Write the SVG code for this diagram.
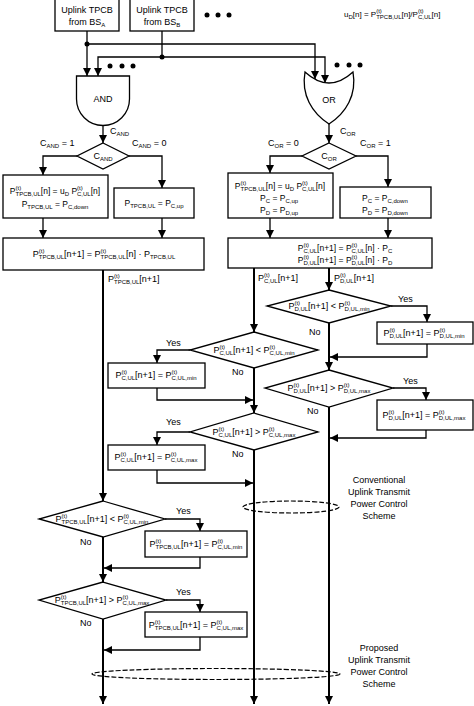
<svg xmlns="http://www.w3.org/2000/svg" width="474" height="706" viewBox="0 0 474 706">
<style>
.t{font-family:"Liberation Sans",Arial,sans-serif;font-size:9px;fill:#000}
.m{text-anchor:middle}
.s{font-size:6px}
.b{fill:#fff;stroke:#000;stroke-width:1.3}
.l{fill:none;stroke:#000;stroke-width:1.3}
.k{fill:none;stroke:#000;stroke-width:2}
.e{fill:none;stroke:#000;stroke-width:1.2;stroke-dasharray:5,2}
</style>
<defs>
<marker id="ah" markerUnits="userSpaceOnUse" markerWidth="8" markerHeight="8" refX="8" refY="4" orient="auto"><path d="M0,0 L8,4 L0,8 Z" fill="#000"/></marker>
</defs>

<g id="connectors">
<path class="l" d="M87,31 V76" marker-end="url(#ah)"/>
<path class="l" d="M162,31 V57"/>
<path class="l" d="M87,44 H315 V79" marker-end="url(#ah)"/>
<path class="l" d="M162,57 H98 V76" marker-end="url(#ah)"/>
<path class="l" d="M162,57 H325 V83" marker-end="url(#ah)"/>
<circle cx="87" cy="44" r="2.5"/>
<circle cx="162" cy="57" r="2.5"/>
<path class="l" d="M103,126 V143" marker-end="url(#ah)"/>
<path class="l" d="M77,156 H43 V175" marker-end="url(#ah)"/>
<path class="l" d="M129,156 H162 V188" marker-end="url(#ah)"/>
<path class="l" d="M43,218 V238" marker-end="url(#ah)"/>
<path class="l" d="M162,218 V238" marker-end="url(#ah)"/>
<path class="k" d="M103,270 V501" marker-end="url(#ah)"/>
<path class="l" d="M165,519 H200 V531" marker-end="url(#ah)"/>
<path class="l" d="M200,557 V568 H104" marker-end="url(#ah)"/>
<path class="k" d="M103,537 V582" marker-end="url(#ah)"/>
<path class="l" d="M166,600 H200 V612" marker-end="url(#ah)"/>
<path class="l" d="M200,637 V650 H104" marker-end="url(#ah)"/>
<path class="k" d="M103,619 V704" marker-end="url(#ah)"/>

<path class="l" d="M329,124 V143" marker-end="url(#ah)"/>
<path class="l" d="M302,156 H270 V173" marker-end="url(#ah)"/>
<path class="l" d="M356,156 H388 V187" marker-end="url(#ah)"/>
<path class="l" d="M270,218 V238" marker-end="url(#ah)"/>
<path class="l" d="M388,218 V238" marker-end="url(#ah)"/>

<path class="k" d="M254,268 V332" marker-end="url(#ah)"/>
<path class="l" d="M190,350 H157 V363" marker-end="url(#ah)"/>
<path class="l" d="M157,388 V400 H253" marker-end="url(#ah)"/>
<path class="k" d="M254,368 V413" marker-end="url(#ah)"/>
<path class="l" d="M190,432 H157 V445" marker-end="url(#ah)"/>
<path class="l" d="M157,470 V483 H253" marker-end="url(#ah)"/>
<path class="k" d="M254,450 V704" marker-end="url(#ah)"/>

<path class="k" d="M329,268 V290" marker-end="url(#ah)"/>
<path class="l" d="M391,306 H427 V322" marker-end="url(#ah)"/>
<path class="l" d="M427,344 V357 H330" marker-end="url(#ah)"/>
<path class="k" d="M329,323 V370" marker-end="url(#ah)"/>
<path class="l" d="M393,388 H426 V400" marker-end="url(#ah)"/>
<path class="l" d="M426,430 V438 H330" marker-end="url(#ah)"/>
<path class="k" d="M329,407 V704" marker-end="url(#ah)"/>
</g>

<g id="dots">
<circle cx="207" cy="15" r="2.5"/><circle cx="218" cy="15" r="2.5"/><circle cx="229" cy="15" r="2.5"/>
<circle cx="110" cy="66" r="2.5"/><circle cx="122" cy="66" r="2.5"/><circle cx="133" cy="66" r="2.5"/>
<circle cx="337" cy="65" r="2.5"/><circle cx="349" cy="65" r="2.5"/><circle cx="360" cy="65" r="2.5"/>
</g>

<g id="eq">
<text class="t" x="344" y="17" style="font-size:8px">u<tspan class="s" dy="2">D</tspan><tspan dy="-2">[n] = P</tspan><tspan class="s" dy="-4">(t)</tspan><tspan class="s" dx="-5.7" dy="6">TPCB,UL</tspan><tspan dy="-2">[n]/P</tspan><tspan class="s" dy="-4">(t)</tspan><tspan class="s" dx="-5.7" dy="6">C,UL</tspan><tspan dy="-2">[n]</tspan></text>
</g>

<g id="bsA">
<rect class="b" x="55" y="-2" width="64" height="33"/>
<text class="t m" x="87" y="13">Uplink TPCB</text>
<text class="t m" x="87" y="25">from BS<tspan class="s" dy="2">A</tspan></text>
</g>
<g id="bsB">
<rect class="b" x="130" y="-2" width="64" height="33"/>
<text class="t m" x="162" y="13">Uplink TPCB</text>
<text class="t m" x="162" y="25">from BS<tspan class="s" dy="2">B</tspan></text>
</g>

<g id="and">
<path class="b" d="M76.5,76 H129.5 V99 A26.5,26.5 0 0 1 76.5,99 Z"/>
<text class="t m" x="103" y="102">AND</text>
</g>
<g id="or">
<path class="b" d="M305,72 Q329,94 353,72 C357,95 346,113 329,124 C312,113 301,95 305,72 Z"/>
<text class="t m" x="329" y="103">OR</text>
</g>

<g id="labels-gates">
<text class="t" x="110" y="134">C<tspan class="s" dy="2">AND</tspan></text>
<text class="t" x="40" y="146">C<tspan class="s" dy="2">AND</tspan><tspan dy="-2"> = 1</tspan></text>
<text class="t" x="132" y="146">C<tspan class="s" dy="2">AND</tspan><tspan dy="-2"> = 0</tspan></text>
<text class="t" x="340" y="134">C<tspan class="s" dy="2">OR</tspan></text>
<text class="t" x="268" y="146">C<tspan class="s" dy="2">OR</tspan><tspan dy="-2"> = 0</tspan></text>
<text class="t" x="360" y="146">C<tspan class="s" dy="2">OR</tspan><tspan dy="-2"> = 1</tspan></text>
</g>

<g id="dAND">
<path class="b" d="M103,143 L129,156 L103,169 L77,156 Z"/>
<text class="t m" x="103" y="159">C<tspan class="s" dy="2">AND</tspan></text>
</g>
<g id="dOR">
<path class="b" d="M329,143 L356,156 L329,169 L302,156 Z"/>
<text class="t m" x="329" y="159">C<tspan class="s" dy="2">OR</tspan></text>
</g>

<g id="boxAND1">
<rect class="b" x="3" y="175" width="105" height="43"/>
<text class="t m" x="55" y="194" style="font-size:8.5px">P<tspan class="s" dy="-4">(t)</tspan><tspan class="s" dx="-5.7" dy="6">TPCB,UL</tspan><tspan dy="-2">[n] = u</tspan><tspan class="s" dy="2">D</tspan><tspan dy="-2"> P</tspan><tspan class="s" dy="-4">(t)</tspan><tspan class="s" dx="-5.7" dy="6">C,UL</tspan><tspan dy="-2">[n]</tspan></text>
<text class="t m" x="55" y="207" style="font-size:8.5px">P<tspan class="s" dy="2">TPCB,UL</tspan><tspan dy="-2"> = P</tspan><tspan class="s" dy="2">C,down</tspan></text>
</g>
<g id="boxAND0">
<rect class="b" x="114" y="188" width="80" height="30"/>
<text class="t m" x="154" y="206" style="font-size:8.5px">P<tspan class="s" dy="2">TPCB,UL</tspan><tspan dy="-2"> = P</tspan><tspan class="s" dy="2">C,up</tspan></text>
</g>
<g id="boxANDmain">
<rect class="b" x="3" y="238" width="201" height="32"/>
<text class="t m" x="104" y="257">P<tspan class="s" dy="-4">(t)</tspan><tspan class="s" dx="-5.7" dy="6">TPCB,UL</tspan><tspan dy="-2">[n+1] = P</tspan><tspan class="s" dy="-4">(t)</tspan><tspan class="s" dx="-5.7" dy="6">TPCB,UL</tspan><tspan dy="-2">[n] · P</tspan><tspan class="s" dy="2">TPCB,UL</tspan></text>
</g>
<text class="t" x="108" y="282">P<tspan class="s" dy="-4">(t)</tspan><tspan class="s" dx="-5.7" dy="6">TPCB,UL</tspan><tspan dy="-2">[n+1]</tspan></text>

<g id="boxOR0">
<rect class="b" x="228" y="173" width="105" height="45"/>
<text class="t m" x="280" y="189" style="font-size:8.5px">P<tspan class="s" dy="-4">(t)</tspan><tspan class="s" dx="-5.7" dy="6">TPCB,UL</tspan><tspan dy="-2">[n] = u</tspan><tspan class="s" dy="2">D</tspan><tspan dy="-2"> P</tspan><tspan class="s" dy="-4">(t)</tspan><tspan class="s" dx="-5.7" dy="6">C,UL</tspan><tspan dy="-2">[n]</tspan></text>
<text class="t" x="260" y="201" style="font-size:8.5px">P<tspan class="s" dy="2">C</tspan><tspan dy="-2"> =  P</tspan><tspan class="s" dy="2">C,up</tspan></text>
<text class="t" x="260" y="213" style="font-size:8.5px">P<tspan class="s" dy="2">D</tspan><tspan dy="-2"> =  P</tspan><tspan class="s" dy="2">D,up</tspan></text>
</g>
<g id="boxOR1">
<rect class="b" x="340" y="187" width="91" height="31"/>
<text class="t" x="362" y="201" style="font-size:8.5px">P<tspan class="s" dy="2">C</tspan><tspan dy="-2"> =  P</tspan><tspan class="s" dy="2">C,down</tspan></text>
<text class="t" x="362" y="213" style="font-size:8.5px">P<tspan class="s" dy="2">D</tspan><tspan dy="-2"> =  P</tspan><tspan class="s" dy="2">D,down</tspan></text>
</g>
<g id="boxORmain">
<rect class="b" x="228" y="238" width="204" height="30"/>
<text class="t m" x="345" y="251" style="font-size:8.5px">P<tspan class="s" dy="-4">(t)</tspan><tspan class="s" dx="-5.7" dy="6">C,UL</tspan><tspan dy="-2">[n+1] = P</tspan><tspan class="s" dy="-4">(t)</tspan><tspan class="s" dx="-5.7" dy="6">C,UL</tspan><tspan dy="-2">[n] · P</tspan><tspan class="s" dy="2">C</tspan></text>
<text class="t m" x="345" y="263" style="font-size:8.5px">P<tspan class="s" dy="-4">(t)</tspan><tspan class="s" dx="-5.7" dy="6">D,UL</tspan><tspan dy="-2">[n+1] = P</tspan><tspan class="s" dy="-4">(t)</tspan><tspan class="s" dx="-5.7" dy="6">D,UL</tspan><tspan dy="-2">[n] · P</tspan><tspan class="s" dy="2">D</tspan></text>
</g>
<text class="t" x="258" y="281">P<tspan class="s" dy="-4">(t)</tspan><tspan class="s" dx="-5.7" dy="6">C,UL</tspan><tspan dy="-2">[n+1]</tspan></text>
<text class="t" x="334" y="281">P<tspan class="s" dy="-4">(t)</tspan><tspan class="s" dx="-5.7" dy="6">D,UL</tspan><tspan dy="-2">[n+1]</tspan></text>

<g id="dD1">
<path class="b" d="M329,290 L391,306 L329,323 L267,306 Z"/>
<text class="t m" x="329" y="309">P<tspan class="s" dy="-4">(t)</tspan><tspan class="s" dx="-5.7" dy="6">D,UL</tspan><tspan dy="-2">[n+1] &lt; P</tspan><tspan class="s" dy="-4">(t)</tspan><tspan class="s" dx="-5.7" dy="6">D,UL,min</tspan></text>
<text class="t" x="398" y="302">Yes</text>
<text class="t" x="309" y="335">No</text>
</g>
<g id="boxDmin">
<rect class="b" x="377" y="322" width="96" height="22"/>
<text class="t m" x="424" y="336">P<tspan class="s" dy="-4">(t)</tspan><tspan class="s" dx="-5.7" dy="6">D,UL</tspan><tspan dy="-2">[n+1] = P</tspan><tspan class="s" dy="-4">(t)</tspan><tspan class="s" dx="-5.7" dy="6">D,UL,min</tspan></text>
</g>
<g id="dD2">
<path class="b" d="M329,370 L393,388 L329,407 L265,388 Z"/>
<text class="t m" x="329" y="391">P<tspan class="s" dy="-4">(t)</tspan><tspan class="s" dx="-5.7" dy="6">D,UL</tspan><tspan dy="-2">[n+1] &gt; P</tspan><tspan class="s" dy="-4">(t)</tspan><tspan class="s" dx="-5.7" dy="6">D,UL,max</tspan></text>
<text class="t" x="403" y="384">Yes</text>
<text class="t" x="307" y="414">No</text>
</g>
<g id="boxDmax">
<rect class="b" x="377" y="400" width="96" height="30"/>
<text class="t m" x="424" y="418">P<tspan class="s" dy="-4">(t)</tspan><tspan class="s" dx="-5.7" dy="6">D,UL</tspan><tspan dy="-2">[n+1] = P</tspan><tspan class="s" dy="-4">(t)</tspan><tspan class="s" dx="-5.7" dy="6">D,UL,max</tspan></text>
</g>

<g id="dC1">
<path class="b" d="M254,332 L318,350 L254,368 L190,350 Z"/>
<text class="t m" x="254" y="353">P<tspan class="s" dy="-4">(t)</tspan><tspan class="s" dx="-5.7" dy="6">C,UL</tspan><tspan dy="-2">[n+1] &lt; P</tspan><tspan class="s" dy="-4">(t)</tspan><tspan class="s" dx="-5.7" dy="6">C,UL,min</tspan></text>
<text class="t" x="166" y="346">Yes</text>
<text class="t" x="232" y="375">No</text>
</g>
<g id="boxCmin">
<rect class="b" x="108" y="363" width="97" height="25"/>
<text class="t m" x="156" y="378">P<tspan class="s" dy="-4">(t)</tspan><tspan class="s" dx="-5.7" dy="6">C,UL</tspan><tspan dy="-2">[n+1] = P</tspan><tspan class="s" dy="-4">(t)</tspan><tspan class="s" dx="-5.7" dy="6">C,UL,min</tspan></text>
</g>
<g id="dC2">
<path class="b" d="M254,413 L318,432 L254,450 L190,432 Z"/>
<text class="t m" x="254" y="435">P<tspan class="s" dy="-4">(t)</tspan><tspan class="s" dx="-5.7" dy="6">C,UL</tspan><tspan dy="-2">[n+1] &gt; P</tspan><tspan class="s" dy="-4">(t)</tspan><tspan class="s" dx="-5.7" dy="6">C,UL,max</tspan></text>
<text class="t" x="166" y="425">Yes</text>
<text class="t" x="232" y="457">No</text>
</g>
<g id="boxCmax">
<rect class="b" x="108" y="445" width="97" height="25"/>
<text class="t m" x="156" y="460">P<tspan class="s" dy="-4">(t)</tspan><tspan class="s" dx="-5.7" dy="6">C,UL</tspan><tspan dy="-2">[n+1] = P</tspan><tspan class="s" dy="-4">(t)</tspan><tspan class="s" dx="-5.7" dy="6">C,UL,max</tspan></text>
</g>

<g id="dT1">
<path class="b" d="M103,501 L165,519 L103,537 L39,519 Z"/>
<text class="t m" x="102" y="522">P<tspan class="s" dy="-4">(t)</tspan><tspan class="s" dx="-5.7" dy="6">TPCB,UL</tspan><tspan dy="-2">[n+1] &lt; P</tspan><tspan class="s" dy="-4">(t)</tspan><tspan class="s" dx="-5.7" dy="6">C,UL,min</tspan></text>
<text class="t" x="176" y="514">Yes</text>
<text class="t" x="80" y="545">No</text>
</g>
<g id="boxTmin">
<rect class="b" x="145" y="531" width="102" height="26"/>
<text class="t m" x="196" y="547">P<tspan class="s" dy="-4">(t)</tspan><tspan class="s" dx="-5.7" dy="6">TPCB,UL</tspan><tspan dy="-2">[n+1] = P</tspan><tspan class="s" dy="-4">(t)</tspan><tspan class="s" dx="-5.7" dy="6">C,UL,min</tspan></text>
</g>
<g id="dT2">
<path class="b" d="M103,582 L166,600 L103,619 L39,600 Z"/>
<text class="t m" x="102" y="603">P<tspan class="s" dy="-4">(t)</tspan><tspan class="s" dx="-5.7" dy="6">TPCB,UL</tspan><tspan dy="-2">[n+1] &gt; P</tspan><tspan class="s" dy="-4">(t)</tspan><tspan class="s" dx="-5.7" dy="6">C,UL,max</tspan></text>
<text class="t" x="176" y="595">Yes</text>
<text class="t" x="80" y="626">No</text>
</g>
<g id="boxTmax">
<rect class="b" x="145" y="612" width="102" height="25"/>
<text class="t m" x="196" y="628">P<tspan class="s" dy="-4">(t)</tspan><tspan class="s" dx="-5.7" dy="6">TPCB,UL</tspan><tspan dy="-2">[n+1] = P</tspan><tspan class="s" dy="-4">(t)</tspan><tspan class="s" dx="-5.7" dy="6">C,UL,max</tspan></text>
</g>

<g id="conventional">
<ellipse class="e" cx="291" cy="507" rx="48" ry="6"/>
<text class="t m" x="379" y="483">Conventional</text>
<text class="t m" x="379" y="495">Uplink Transmit</text>
<text class="t m" x="379" y="507">Power Control</text>
<text class="t m" x="379" y="519">Scheme</text>
</g>
<g id="proposed">
<ellipse class="e" cx="216" cy="674" rx="124" ry="5.5"/>
<text class="t m" x="379" y="651">Proposed</text>
<text class="t m" x="379" y="663">Uplink Transmit</text>
<text class="t m" x="379" y="675">Power Control</text>
<text class="t m" x="379" y="687">Scheme</text>
</g>
</svg>
